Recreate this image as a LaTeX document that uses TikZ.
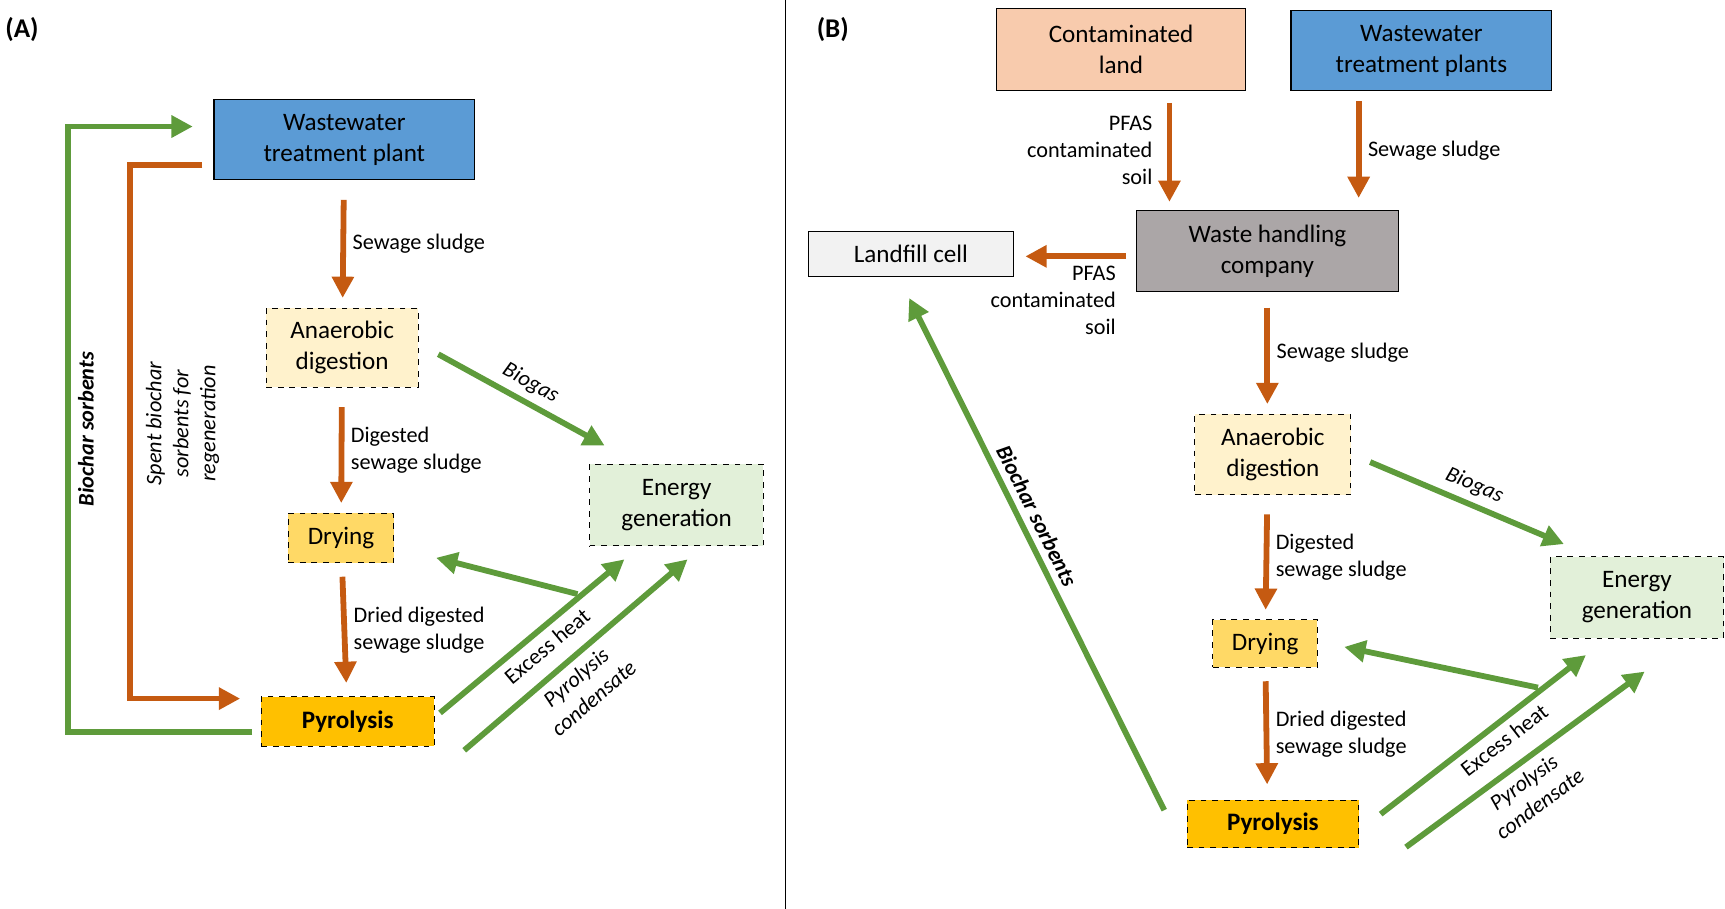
\documentclass[tikz,border=0pt]{standalone}
\usepackage{fontspec}
\setmainfont{Carlito}
\usetikzlibrary{arrows.meta,positioning,calc}

\definecolor{wwblue}{HTML}{5B9BD5}
\definecolor{landpink}{HTML}{F8CBAD}
\definecolor{wastegrey}{HTML}{ABA6A7}
\definecolor{adyellow}{HTML}{FFF2CC}
\definecolor{dryyellow}{HTML}{FFD966}
\definecolor{pyroorange}{HTML}{FFC000}
\definecolor{energygreen}{HTML}{E2F0D9}
\definecolor{arrorange}{HTML}{C55A11}
\definecolor{arrgreen}{HTML}{5E9B3B}

\begin{document}
\begin{tikzpicture}[
    x=0.02cm, y=-0.02cm,
    every node/.style={font=\fontsize{13}{16}\selectfont, text=black},
    box/.style={draw=black, minimum width=#1, align=center, inner sep=2pt},
    solidbox/.style={box=#1, line width=0.6pt},
    dashbox/.style={box=#1, dashed, line width=0.5pt},
    lbl/.style={font=\fontsize{11.5}{14}\selectfont, align=left, text=black},
    ilbl/.style={lbl, font=\itshape\fontsize{11.5}{14}\selectfont},
    oarr/.style={arrorange, line width=3pt, -{Triangle[length=11pt,width=11pt]}},
    garr/.style={arrgreen, line width=3pt, -{Triangle[length=11pt,width=11pt]}},
  ]
  \useasboundingbox (0,0) rectangle (1568,826);

  % Panel labels and divider
  \node[font=\bfseries\fontsize{14}{17}\selectfont] (labA) at (20,27) {(A)};
  \node[font=\bfseries\fontsize{14}{17}\selectfont] (labB) at (757,27) {(B)};
  \draw[line width=0.6pt] (714,0) -- (714,826);

  % Panel A: nodes
  \node[solidbox=4.74cm, minimum height=1.46cm, fill=wwblue] (wwtpA) at (313,127) {Wastewater\\treatment plant};
  \node[dashbox=2.76cm, minimum height=1.44cm, fill=adyellow] (adA) at (311,316) {Anaerobic\\digestion};
  \node[dashbox=1.92cm, minimum height=0.9cm, fill=dryyellow] (dryA) at (310,489) {Drying};
  \node[dashbox=3.14cm, minimum height=0.9cm, fill=pyroorange, font=\bfseries\fontsize{13}{16}\selectfont] (pyrA) at (316,656) {Pyrolysis};
  \node[dashbox=3.16cm, minimum height=1.48cm, fill=energygreen] (engA) at (615,459) {Energy\\generation};

  % Panel A: bend points
  \coordinate (spentTop) at (118,150);
  \coordinate (spentBot) at (118,635);
  \coordinate (sorbBot) at (62,665);
  \coordinate (sorbTop) at (62,115);
  \coordinate (heatA) at (525,540);
  \coordinate (heatAs) at (400,648);
  \coordinate (condAs) at (422,682);

  % Panel A: arrows
  \draw[oarr, shorten <=10pt, shorten >=5pt] (wwtpA) -- node[lbl, right] {Sewage sludge} (adA);
  \draw[oarr, shorten <=10pt, shorten >=5pt] (adA) -- node[lbl, right] {Digested\\sewage sludge} (dryA);
  \draw[oarr, shorten <=7pt, shorten >=7pt] (dryA) -- node[lbl, right] {Dried digested\\sewage sludge} (pyrA);
  \draw[oarr, shorten >=5pt] ($(wwtpA.west)+(-10,23)$) -- (spentTop) -- (spentBot) -- ($(pyrA.west)+(-10,-21)$);
  \draw[garr, shorten >=5pt] ($(pyrA.west)+(-8,9)$) -- (sorbBot) -- (sorbTop) -- ($(wwtpA.west)+(-10,-12)$);
  \draw[garr] ($(adA.east)+(18,6)$) -- node[ilbl, above, sloped] {Biogas} ($(engA.west)+(14,-54)$);
  \draw[garr] (heatAs) -- node[lbl, below, sloped, pos=0.52] {Excess heat} ($(engA.south west)+(32,12)$);
  \draw[garr] (heatA) -- ($(dryA.east)+(38,18)$);
  \draw[garr] (condAs) -- node[ilbl, below, sloped, align=center, pos=0.45] {Pyrolysis\\condensate} ($(engA.south)+(10,12)$);

  \node[rotate=90, font=\bfseries\itshape\fontsize{11.5}{14}\selectfont] (sorbA) at (78,390) {Biochar sorbents};
  \node[rotate=90, align=center, font=\itshape\fontsize{11.5}{14}\selectfont] (spentA) at (166,385) {Spent biochar\\sorbents for\\regeneration};

  % Panel B: nodes
  \node[solidbox=4.54cm, minimum height=1.5cm, fill=landpink] (landB) at (1019,45) {Contaminated\\land};
  \node[solidbox=4.74cm, minimum height=1.46cm, fill=wwblue] (wwtpB) at (1292,46) {Wastewater\\treatment plants};
  \node[solidbox=4.76cm, minimum height=1.48cm, fill=wastegrey] (wasteB) at (1152,228) {Waste handling\\company};
  \node[solidbox=3.72cm, minimum height=0.82cm, fill=black!5] (landfillB) at (828,231) {Landfill cell};
  \node[dashbox=2.84cm, minimum height=1.46cm, fill=adyellow] (adB) at (1157,413) {Anaerobic\\digestion};
  \node[dashbox=1.9cm, minimum height=0.86cm, fill=dryyellow] (dryB) at (1150,585) {Drying};
  \node[dashbox=3.12cm, minimum height=0.86cm, fill=pyroorange, font=\bfseries\fontsize{13}{16}\selectfont] (pyrB) at (1157,749) {Pyrolysis};
  \node[dashbox=3.16cm, minimum height=1.48cm, fill=energygreen] (engB) at (1488,543) {Energy\\generation};

  \coordinate (heatB) at (1398,625);
  \coordinate (heatBs) at (1255,740);
  \coordinate (condBs) at (1278,770);

  % Panel B: arrows
  \draw[oarr, shorten <=6pt, shorten >=4pt] ($(landB.south)+(44,0)$) -- node[lbl, left, align=right, xshift=-4pt] {PFAS\\contaminated\\soil} ($(wasteB.north)+(-89,0)$);
  \draw[oarr, shorten <=5pt, shorten >=6pt] ($(wwtpB.south)+(-57,0)$) -- node[lbl, right] {Sewage sludge} ($(wasteB.north)+(83,0)$);
  \draw[oarr, shorten <=5pt, shorten >=6pt] ($(wasteB.west)+(0,5)$) -- node[lbl, below left, align=right, xshift=26pt] {PFAS\\contaminated\\soil} ($(landfillB.east)+(0,2)$);
  \draw[oarr, shorten <=8pt, shorten >=5pt] (wasteB.south) -- node[lbl, right] {Sewage sludge} ($(adB.north)+(-5,0)$);
  \draw[oarr, shorten <=10pt, shorten >=5pt] ($(adB.south)+(-5,0)$) -- node[lbl, right] {Digested\\sewage sludge} (dryB);
  \draw[oarr, shorten <=7pt, shorten >=8pt] (dryB) -- node[lbl, right] {Dried digested\\sewage sludge} ($(pyrB.north)+(-5,0)$);
  \draw[garr, shorten <=8pt, shorten >=12pt] ($(pyrB.west)+(-14,0)$) -- node[sloped, above, font=\bfseries\itshape\fontsize{11.5}{14}\selectfont, pos=0.55] {Biochar sorbents} ($(landfillB.south)+(-11,0)$);
  \draw[garr] ($(adB.east)+(17,7)$) -- node[ilbl, above, sloped] {Biogas} ($(engB.north west)+(13,-11)$);
  \draw[garr] (heatBs) -- node[lbl, below, sloped, pos=0.55] {Excess heat} ($(engB.south west)+(33,15)$);
  \draw[garr] (heatB) -- ($(dryB.east)+(24,3)$);
  \draw[garr] (condBs) -- node[ilbl, below, sloped, align=center, pos=0.45] {Pyrolysis\\condensate} ($(engB.south)+(7,30)$);
\end{tikzpicture}
\end{document}
